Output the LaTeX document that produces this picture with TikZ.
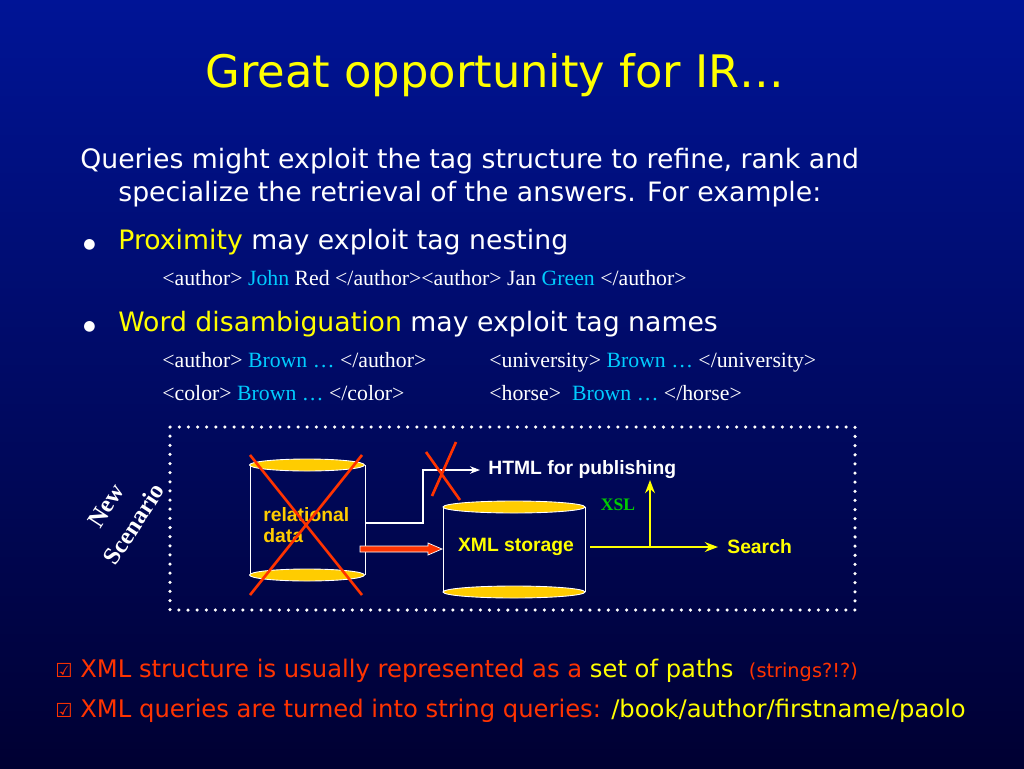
\documentclass[tikz,border=0pt]{standalone}
\usepackage{fontspec}
\setmainfont{DejaVu Sans}
\newfontfamily\serifit{Liberation Serif}
\newfontfamily\arialf{Liberation Sans}
\usetikzlibrary{positioning,arrows.meta,shapes.geometric}
\definecolor{titleyellow}{RGB}{255,255,0}
\definecolor{tagcyan}{RGB}{0,204,255}
\definecolor{cylgold}{RGB}{255,204,0}
\definecolor{xred}{RGB}{255,51,0}
\definecolor{xslgreen}{RGB}{0,204,0}
\begin{document}
\begin{tikzpicture}[x=0.02cm, y=-0.02cm, >=Stealth,
	body/.style={anchor=base west, inner sep=0pt, text=white, font=\fontsize{15.2}{17}\selectfont},
	tagline/.style={anchor=base west, inner sep=0pt, text=white, font=\serifit\fontsize{12.4}{14}\selectfont},
	boxlabel/.style={inner sep=0pt, font=\arialf\bfseries\fontsize{11}{12}\selectfont},
	claim/.style={anchor=base west, inner sep=0pt, text=xred, font=\fontsize{13.8}{16}\selectfont},
	cylline/.style={draw=white, line width=0.5pt},
	cylcap/.style={ellipse, draw=white, fill=cylgold, line width=0.5pt, inner sep=0pt},
	crossLine/.style={draw=xred, line width=1.5pt}
	]
	\shade[top color={rgb,255:red,0;green,20;blue,150}, bottom color={rgb,255:red,0;green,0;blue,50}] (0,0) rectangle (1024,768);
	\useasboundingbox (0,0) rectangle (1024,768);

	\node[text=titleyellow, font=\fontsize{25.5}{30}\selectfont](title) at (495,75) {Great opportunity for IR\ldots};

	\node[body](q1) at (80,168) {Queries might exploit the tag structure to refine, rank and};
	\node[body](q2) at (118,201) {specialize the retrieval of the answers. For example:};

	\node[body, font=\fontsize{8}{9}\selectfont](b1) at (83,248) {●};
	\node[body](prox) at (118,249) {\textcolor{titleyellow}{Proximity} may exploit tag nesting};
	\node[tagline](t1) at (162,285) {<author> \textcolor{tagcyan}{John} Red </author><author> Jan \textcolor{tagcyan}{Green} </author>};

	\node[body, font=\fontsize{8}{9}\selectfont](b2) at (83,330) {●};
	\node[body](wsd) at (118,331) {\textcolor{titleyellow}{Word disambiguation} may exploit tag names};
	\node[tagline](t2) at (162,367) {<author> \textcolor{tagcyan}{Brown \ldots} </author>};
	\node[tagline](t3) at (489,367) {<university> \textcolor{tagcyan}{Brown \ldots} </university>};
	\node[tagline](t4) at (162,400) {<color> \textcolor{tagcyan}{Brown \ldots} </color>};
	\node[tagline](t5) at (489,400) {<horse>\ \ \textcolor{tagcyan}{Brown \ldots} </horse>};

	% scenario box
	\draw[white, line width=2pt, dash pattern=on 0pt off 5.2pt, line cap=round] (170,427) rectangle (855,610);
	\node[text=white, rotate=57, align=center, font=\serifit\bfseries\fontsize{14}{19}\selectfont](scen) at (120,515) {New\\Scenario};

	% relational cylinder
	\draw[cylline] (250,465) -- (250,575) (365,465) -- (365,575);
	\node[cylcap, minimum width=115*0.02cm, minimum height=12*0.02cm](rtop) at (307,465) {};
	\node[cylcap, minimum width=115*0.02cm, minimum height=12*0.02cm](rbot) at (307,575) {};
	\node[boxlabel, text=cylgold, anchor=north west, align=left](rel) at (263,507) {relational\\data};

	% xml cylinder
	\draw[cylline] (443,507) -- (443,592) (585,507) -- (585,592);
	\node[cylcap, minimum width=142*0.02cm, minimum height=12*0.02cm](xtop) at (514,507) {};
	\node[cylcap, minimum width=142*0.02cm, minimum height=12*0.02cm](xbot) at (514,592) {};
	\node[boxlabel, text=titleyellow](xml) at (516,547) {XML storage};

	\node[boxlabel, text=white, anchor=west](html) at (488,470) {HTML for publishing};
	\node[boxlabel, text=titleyellow, anchor=west](search) at (727,547) {Search};
	\node[text=xslgreen, inner sep=0pt, font=\serifit\bfseries\fontsize{10}{11}\selectfont](xsl) at (618,505) {XSL};
	\coordinate (split) at (650,547);
	\coordinate (relout) at (365,523);
	\coordinate (htmlin) at (480,470);
	\coordinate (searchin) at (718,547);

	\draw[white, line width=0.6pt, ->] (relout) -| (423,470) -- (htmlin);
	\draw[white, fill=xred, line width=0.4pt] (360,546) -- (428,546) -- (428,543) -- (442,549) -- (428,555) -- (428,552) -- (360,552) -- cycle;
	\draw[titleyellow, line width=1pt, ->] (590,547) -- (searchin);
	\draw[titleyellow, line width=1pt, ->] (split) -- (650,480);

	% crosses
	\draw[crossLine] (250,455) -- (362,595) (362,455) -- (250,595);
	\draw[crossLine] (426,452) -- (460,500) (456,442) -- (432,496);

	\node[claim](c1) at (55,677) {{\fontsize{11}{12}\selectfont ☑} XML structure is usually represented as a \textcolor{titleyellow}{set of paths}\ \ {\fontsize{11}{12}\selectfont (strings?!?)}};
	\node[claim](c2) at (55,717) {{\fontsize{11}{12}\selectfont ☑} XML queries are turned into string queries: \textcolor{titleyellow}{/book/author/firstname/paolo}};
\end{tikzpicture}
\end{document}
